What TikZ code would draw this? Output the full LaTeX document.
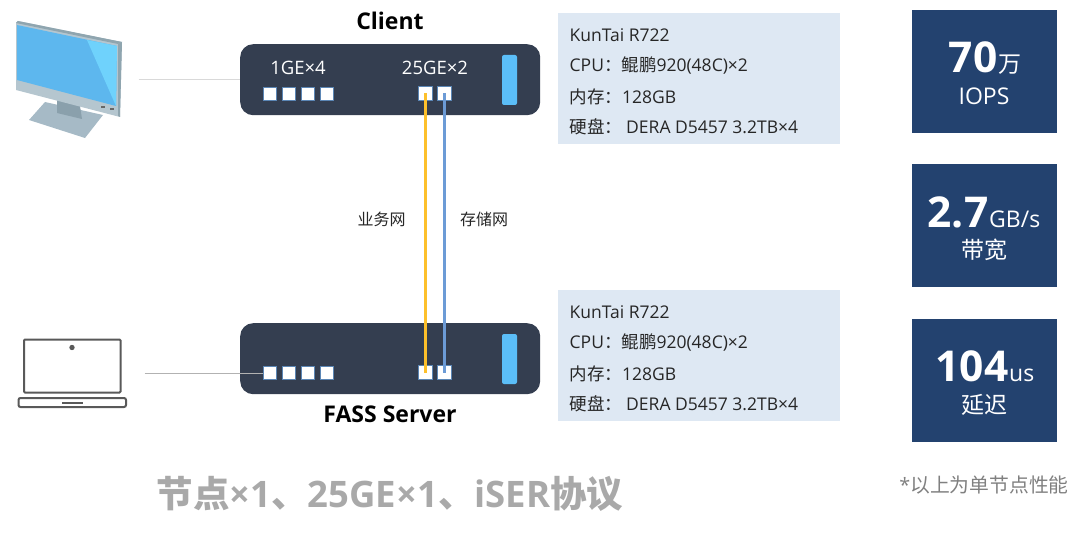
\documentclass[tikz,border=0pt]{standalone}
\usepackage{fontspec}
\setmainfont{Open Sans}
\newfontfamily\cjk{Noto Sans CJK SC}
\newcommand{\Z}[1]{{\cjk #1}}
\definecolor{dark}{HTML}{343E50}
\definecolor{sky}{HTML}{5BBEF8}
\definecolor{panel}{HTML}{DEE8F3}
\definecolor{navy}{HTML}{23426F}
\definecolor{yellowbar}{HTML}{FDC02B}
\definecolor{bluebar}{HTML}{6C9BD6}
\definecolor{pedge}{HTML}{5B86B5}
\definecolor{gtext}{HTML}{A9A9A9}
\definecolor{body}{HTML}{262626}
\definecolor{monbody}{HTML}{B5C6CF}
\definecolor{monedge}{HTML}{8FA5AF}
\definecolor{monbase}{HTML}{A6BAC6}
\definecolor{monneck}{HTML}{8AA0AC}
\definecolor{monscreen}{HTML}{5DB7EE}
\definecolor{monlight}{HTML}{6FD2FC}
\definecolor{lapline}{HTML}{595959}
\tikzset{
 x=1pt,y=-1pt,
 chassis/.style={fill=dark,rounded corners=13pt,minimum width=300pt,minimum height=71pt,inner sep=0,anchor=north west},
 led/.style={fill=sky,rounded corners=2pt,minimum width=15pt,minimum height=50pt,inner sep=0},
 port/.style={fill=white,draw=pedge,line width=1pt,minimum size=14pt,inner sep=0},
 wire/.style={line width=3.5pt},
 link/.style={draw=black!15,line width=1pt},
 spec/.style={fill=panel,minimum width=282pt,minimum height=131pt,anchor=north west,inner sep=0},
 specline/.style={anchor=west,font=\fontsize{17.5}{20}\selectfont,text=body,inner sep=0},
 stat/.style={fill=navy,minimum width=145pt,minimum height=123pt,anchor=north west,inner sep=0},
 bignum/.style={font=\fontsize{42.5}{47}\selectfont\bfseries,text=white,inner sep=0,anchor=base east},
 unit/.style={font=\fontsize{23}{26}\selectfont,text=white,inner sep=0,anchor=base west},
 statlabel/.style={font=\fontsize{23}{27}\selectfont,text=white,inner sep=0},
 title/.style={font=\fontsize{23}{27}\selectfont\bfseries,text=black,inner sep=0},
 porttext/.style={font=\fontsize{18.5}{22}\selectfont,text=white,inner sep=0},
 netlabel/.style={font=\fontsize{16}{19}\selectfont,text=body,inner sep=0},
}
\begin{document}
\begin{tikzpicture}
\useasboundingbox (0,0) rectangle (1080,535);
% monitor
\fill[monbase] (29,120) -- (45,102) -- (103,115) -- (85,138) -- cycle;
\fill[monneck] (57,100) -- (80,106) -- (82,119) -- (57,113) -- cycle;
\fill[monbody] (16,90) -- (16,23) -- (18,21) -- (122,42) -- (120,117) -- cycle;
\fill[monedge] (16,23) -- (18,21) -- (122,42) -- (118,44) -- cycle;
\fill[monedge] (118,44) -- (122,42) -- (120,117) -- (118,116) -- cycle;
\fill[monscreen] (17,25) -- (117,46) -- (116,106) -- (17,80) -- cycle;
\fill[monlight] (87,40) -- (117,46) -- (116,106) -- cycle;
\fill[black!60] (101,106) rectangle (105,108);
\fill[black!60] (110,108) rectangle (114,110);
\node[inner sep=0,minimum size=1pt] (monitor) at (138,80) {};
\node[inner sep=0,minimum size=1pt] (laptop) at (144,373) {};
% laptop
\draw[lapline,line width=2pt,rounded corners=1pt] (24,339.500) rectangle (120.500,392.500);
\fill[lapline] (72,347.500) circle (2.700);
\draw[lapline,line width=2pt,rounded corners=2pt] (18.500,398) rectangle (126,407);
\draw[lapline,line width=2pt] (62,402.500) -- (83,402.500);
% chassis
\node[chassis] (clientbox) at (240,44) {};
\node[chassis] (serverbox) at (240,323) {};
\node[led] (ledA) at (509.500,80) {};
\node[led] (ledB) at (509.500,359) {};
% links
\draw[link] (monitor) -- (clientbox.west |- monitor);
\foreach \i/\x in {1/270,2/289,3/308,4/327}{
 \node[port,minimum size=13.500pt] (ca\i) at (\x,94) {};
 \node[port,minimum size=13.500pt] (sa\i) at (\x,373) {};
}
\foreach \i/\x in {1/425.500,2/444.500}{
 \node[port] (cb\i) at (\x,93.500) {};
 \node[port] (sb\i) at (\x,372.500) {};
}
\draw[link,draw=black!30] (laptop) -- (sa1);
\draw[wire,yellowbar] (cb1.center) -- (sb1.center);
\draw[wire,bluebar] (cb2.center) -- (sb2.center);
% labels
\node[porttext] (l1) at (298,68) {1GE×4};
\node[porttext] (l2) at (435,68) {25GE×2};
\node[title] (client) at (390,21) {Client};
\node[title] (server) at (390,414) {FASS Server};
\node[netlabel] (yw) at (381.500,219) {\Z{业务网}};
\node[netlabel] (cc) at (484,219) {\Z{存储网}};
% spec panels
\node[spec] (specA) at (558,13) {};
\node[spec] (specB) at (558,290) {};
\foreach \p/\y in {A/35,B/312}{
 \node[specline] (s\p1) at (569.500,\y) {KunTai R722};
 \node[specline] (s\p2) at (569.500,\y+31) {CPU\Z{：鲲鹏}920(48C)×2};
 \node[specline] (s\p3) at (569.500,\y+62) {\Z{内存：}128GB};
 \node[specline] (s\p4) at (569.500,\y+92) {\Z{硬盘：}\hspace{4pt}DERA D5457 3.2TB×4};
}
% stats
\node[stat] (st1) at (912,10) {};
\node[stat] (st2) at (912,164) {};
\node[stat] (st3) at (912,319) {};
\node[bignum] (n1) at (997.500,73) {70};
\node[unit] (u1) at (998,73) {\Z{万}};
\node[statlabel] (t1) at (984,96) {IOPS};
\node[bignum] (n2) at (988.500,227) {2.7};
\node[unit] (u2) at (989,227) {GB/s};
\node[statlabel] (t2) at (984,250) {\Z{带宽}};
\node[bignum] (n3) at (1008.500,381) {104};
\node[unit] (u3) at (1009,381) {us};
\node[statlabel] (t3) at (984,405) {\Z{延迟}};
% bottom
\node[font=\fontsize{36.5}{42}\selectfont\bfseries,text=gtext,inner sep=0] (foot) at (390,494) {\Z{节点}×1\Z{、}25GE×1\Z{、}iSER\Z{协议}};
\node[font=\fontsize{19.8}{23}\selectfont,text=black!50,inner sep=0] (note) at (984,485) {*\Z{以上为单节点性能}};
\end{tikzpicture}
\end{document}
